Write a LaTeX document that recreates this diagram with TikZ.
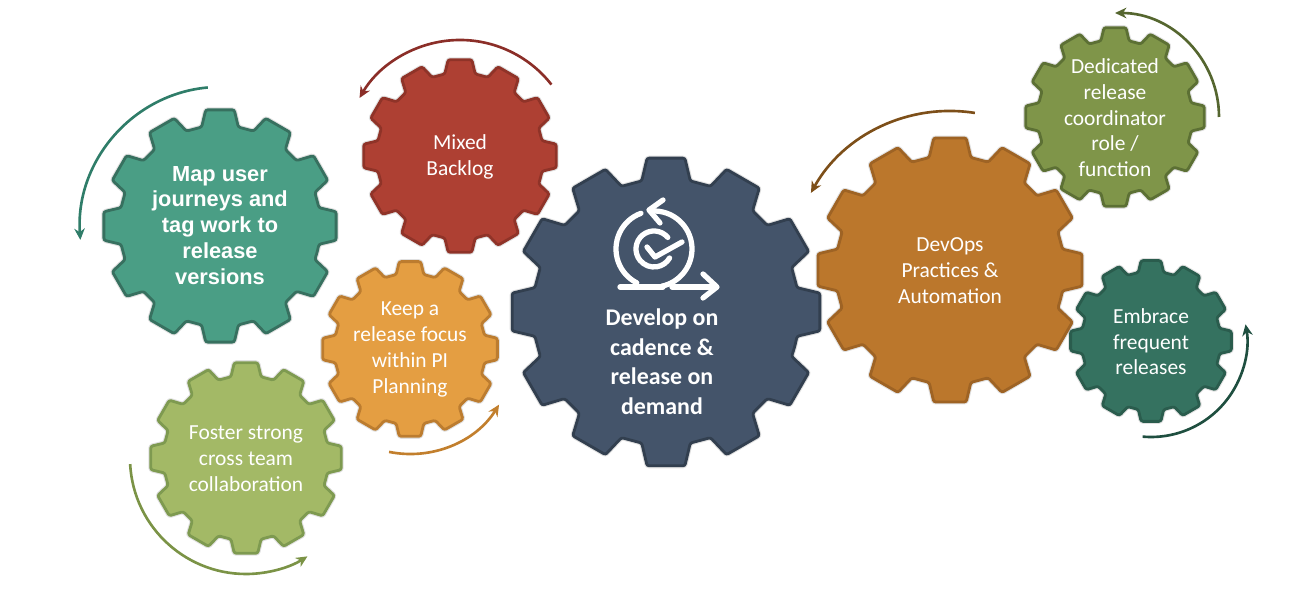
\documentclass[tikz,border=0pt]{standalone}
\usepackage{fontspec}
\setmainfont{Carlito}
\newfontfamily\arialfont{Liberation Sans}
\usetikzlibrary{arrows.meta,calc}

% Colours (fill, outline, arrow)
\definecolor{slatefill}{HTML}{44546A}
\definecolor{slateline}{HTML}{323F4F}
\definecolor{tealfill}{HTML}{4A9E85}
\definecolor{tealline}{HTML}{37705F}
\definecolor{tealarrow}{HTML}{2F7D69}
\definecolor{redfill}{HTML}{AE4033}
\definecolor{redline}{HTML}{8F3328}
\definecolor{redarrow}{HTML}{8B2E28}
\definecolor{amberfill}{HTML}{E49E42}
\definecolor{amberline}{HTML}{BC7C2F}
\definecolor{amberarrow}{HTML}{C27F2D}
\definecolor{limefill}{HTML}{A3B966}
\definecolor{limeline}{HTML}{7E9A50}
\definecolor{limearrow}{HTML}{7B9346}
\definecolor{brownfill}{HTML}{BB772C}
\definecolor{brownline}{HTML}{9E6324}
\definecolor{brownarrow}{HTML}{7D4F19}
\definecolor{olivefill}{HTML}{7F9549}
\definecolor{oliveline}{HTML}{5C7034}
\definecolor{olivearrow}{HTML}{55662F}
\definecolor{pinefill}{HTML}{357260}
\definecolor{pineline}{HTML}{2A5C4D}
\definecolor{pinearrow}{HTML}{1F4F40}

\tikzset{
  geartext/.style={text=white,align=center,yshift=-0.4pt,font=\fontsize{12.2}{14.75}\selectfont},
  turn/.style={line width=1.5pt,-{Stealth[length=6.5pt,width=6pt]}},
  icon/.style={white,line width=3pt,line cap=round,line join=round}
}

% Gear with 12 teeth: #1 centre, #2 outer radius, #3 fill, #4 outline
\newcommand{\gear}[4]{
  \draw[black,opacity=0.12,line width=2.8pt,rounded corners=1.2pt,shift={(#1)}]
    (-15:0.86*#2) \foreach \a in {0,30,...,330}{
      -- (\a-10.5:0.86*#2) -- (\a-7:#2) -- (\a+7:#2) -- (\a+10.5:0.86*#2)
    } -- cycle;
  \draw[fill=#3,draw=#4,line width=1.6pt,rounded corners=1.2pt,shift={(#1)}]
    (-15:0.86*#2) \foreach \a in {0,30,...,330}{
      -- (\a-10.5:0.86*#2) -- (\a-7:#2) -- (\a+7:#2) -- (\a+10.5:0.86*#2)
    } -- cycle;
}

\begin{document}
\begin{tikzpicture}[x=0.2mm,y=0.2mm]
  \useasboundingbox (0,0) rectangle (1310,600);

  % Gear centres
  \coordinate (mapgear) at (220,374);
  \coordinate (mixedgear) at (460,444);
  \coordinate (keepgear) at (410,251);
  \coordinate (fostergear) at (246,142);
  \coordinate (devgear) at (666,288);
  \coordinate (opsgear) at (950,330);
  \coordinate (rolegear) at (1115,483);
  \coordinate (freqgear) at (1151,259);

  % Gears
  \gear{mapgear}{117}{tealfill}{tealline}
  \gear{mixedgear}{97}{redfill}{redline}
  \gear{keepgear}{88}{amberfill}{amberline}
  \gear{fostergear}{96}{limefill}{limeline}
  \gear{devgear}{155}{slatefill}{slateline}
  \gear{opsgear}{133}{brownfill}{brownline}
  \gear{rolegear}{90}{olivefill}{oliveline}
  \gear{freqgear}{81}{pinefill}{pineline}

  % Labels
  \node[geartext,font=\arialfont\bfseries\fontsize{12.4}{14.75}\selectfont,yshift=0.7pt] (maptext) at (mapgear) {Map user\\journeys and\\tag work to\\release\\versions};
  \node[geartext] (mixedtext) at (mixedgear) {Mixed\\Backlog};
  \node[geartext] (keeptext) at (keepgear) {Keep a\\release focus\\within PI\\Planning};
  \node[geartext] (fostertext) at (fostergear) {Foster strong\\cross team\\collaboration};
  \node[geartext,font=\bfseries\fontsize{13.6}{17}\selectfont] (devtext) at (662,239) {Develop on\\cadence \&\\release on\\demand};
  \node[geartext] (opstext) at (opsgear) {DevOps\\Practices \&\\Automation};
  \node[geartext] (roletext) at (rolegear) {Dedicated\\release\\coordinator\\role /\\function};
  \node[geartext] (freqtext) at (freqgear) {Embrace\\frequent\\releases};

  % Turning arrows round the gears
  \coordinate (mapturn) at (207.8,512.5);
  \draw[turn,tealarrow] (mapturn) arc[start angle=95,end angle=184,x radius=140,y radius=143];
  \draw[turn,redarrow] ($(mixedgear)+(38:116)$) arc[start angle=38,end angle=150,radius=116];
  \draw[turn,amberarrow] ($(keepgear)+(-101.5:105)$) arc[start angle=-101.5,end angle=-32,radius=105];
  \draw[turn,limearrow] ($(fostergear)+(183:116)$) arc[start angle=183,end angle=302,radius=116];
  \draw[turn,brownarrow] ($(opsgear)+(81:159)$) arc[start angle=81,end angle=151,radius=159];
  \draw[turn,olivearrow] ($(rolegear)+(0:104)$) arc[start angle=0,end angle=90,radius=104];
  \draw[turn,pinearrow] ($(freqgear)+(-95:96)$) arc[start angle=-95,end angle=10,radius=96];

  % Icon on the centre gear
  \begin{scope}[icon]
    \coordinate (iconmid) at (654,351);
    \draw ($(iconmid)+(110:38)$) arc[start angle=110,end angle=243,radius=38];
    \draw ($(iconmid)+(88:38)$) arc[start angle=88,end angle=-78,radius=38];
    \draw (620,313) -- (663,313);
    \draw (672,313) -- (716,313);
    \draw (703,326) -- (717,313) -- (703,302);
    \draw (663,400) -- (649,390) -- (660,377);
    \draw ($(iconmid)+(40:18)$) arc[start angle=40,end angle=330,radius=18];
    \draw (647,353) -- (655,343) -- (682,358);
  \end{scope}
\end{tikzpicture}
\end{document}
